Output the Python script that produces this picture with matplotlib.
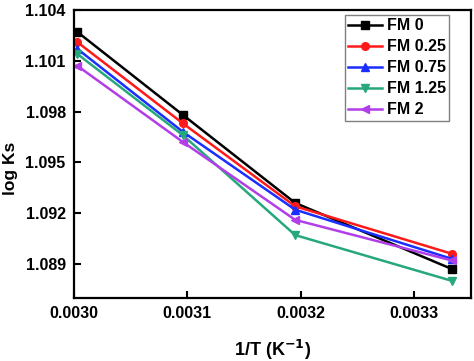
import matplotlib
matplotlib.use("Agg")
import matplotlib.pyplot as plt

inv_T = [0.003003, 0.003096, 0.003195, 0.003333]
labels = ["FM 0", "FM 0.25", "FM 0.75", "FM 1.25", "FM 2"]
fm0 = [1.1027, 1.0978, 1.0926, 1.0887]
fm025 = [1.1021, 1.0973, 1.0924, 1.0896]
fm075 = [1.1017, 1.0968, 1.0922, 1.0893]
fm125 = [1.1014, 1.0966, 1.0907, 1.0880]
fm2 = [1.1007, 1.0962, 1.0916, 1.0892]
series = [fm0, fm025, fm075, fm125, fm2]
colors = ["#000000", "#ff1a1a", "#1a2eff", "#27a87c", "#b23ee8"]
markers = ["s", "o", "^", "v", "<"]
xticks = [0.0030, 0.0031, 0.0032, 0.0033]
yticks = [1.089, 1.092, 1.095, 1.098, 1.101, 1.104]

plt.rcParams['font.family'] = ['Liberation Sans', 'DejaVu Sans']
plt.rcParams['font.weight'] = 'bold'

fig = plt.figure(figsize=(4.74, 3.61), dpi=100)
ax = fig.add_axes([0.1561, 0.1753, 0.8376, 0.797])

for y, c, m, lab in zip(series, colors, markers, labels):
    ax.plot(inv_T, y, color=c, marker=m, markersize=5.5, linewidth=1.8, label=lab)

ax.set_xlim(0.0030, 0.00335)
ax.set_ylim(1.087, 1.104)
ax.set_xticks(xticks)
ax.set_xticklabels(["%.4f" % v for v in xticks])
ax.set_yticks(yticks)
ax.set_yticklabels(["%.3f" % v for v in yticks])
ax.tick_params(direction='in', length=5, width=1.5, labelsize=11.5, pad=6)
for lab in ax.get_xticklabels() + ax.get_yticklabels():
    lab.set_fontweight('bold')
for s in ax.spines.values():
    s.set_linewidth(1.6)

ax.set_xlabel("1/T (K$^{\\mathbf{-1}}$)", fontsize=13, fontweight='bold', labelpad=12)
ax.set_ylabel("log Ks", fontsize=12.5, fontweight='bold')
ax.yaxis.set_label_coords(-0.142, 0.451)

leg = ax.legend(loc='upper right', bbox_to_anchor=(0.9446, 0.9826), borderaxespad=0,
                handlelength=2.1, handletextpad=0.3, labelspacing=0.38,
                borderpad=0.2, fancybox=False, framealpha=1, edgecolor='#808080',
                prop={'weight': 'bold', 'size': 11.5})
leg.get_frame().set_linewidth(1.0)

fig.savefig("out.png", dpi=100)
